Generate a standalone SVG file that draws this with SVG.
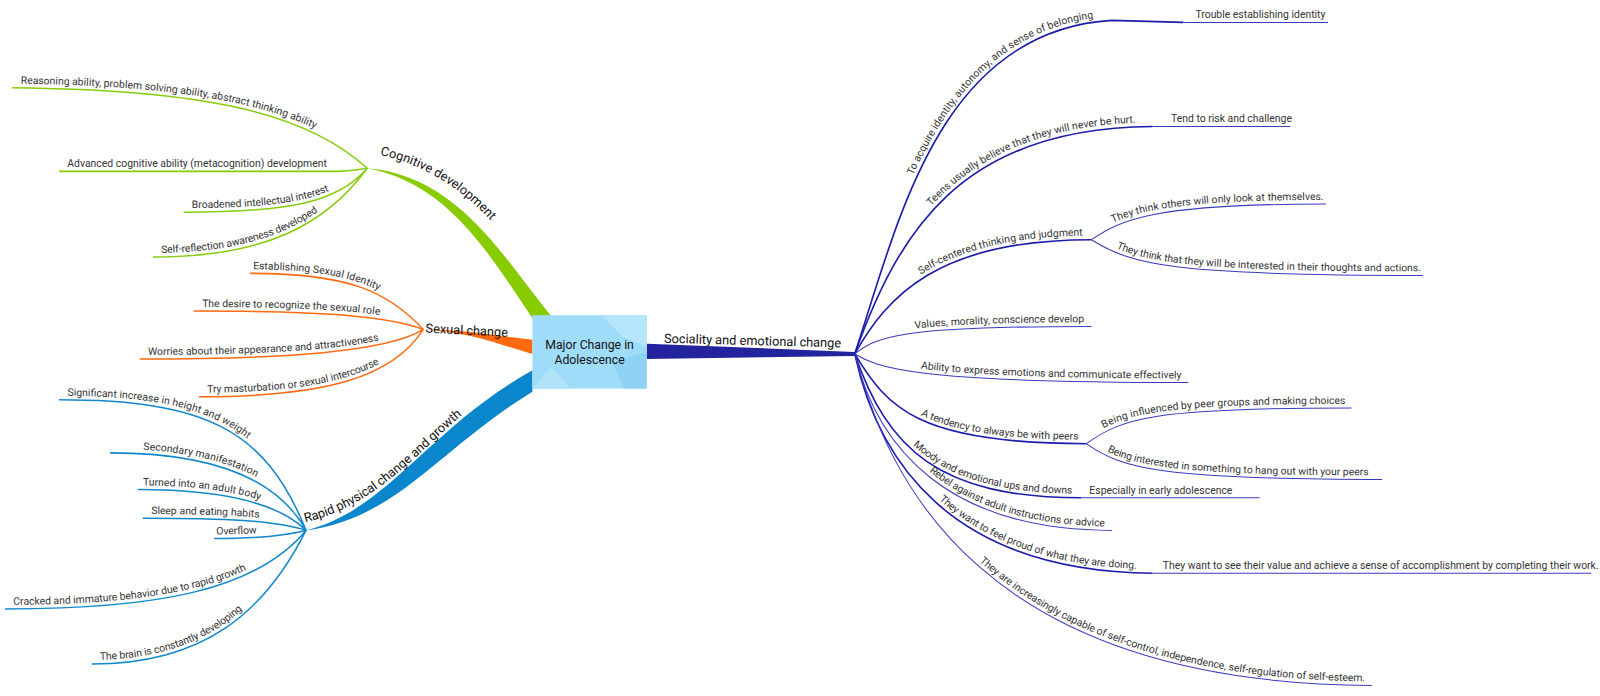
<svg xmlns="http://www.w3.org/2000/svg" width="1600" height="696" viewBox="0 0 1600 696">
<style>
text{font-family:Roboto,"Liberation Sans",sans-serif;fill:#333;font-size:10.2px}
.main{font-size:12.5px;fill:#111}
.g{fill:none;stroke:#86cc0a;stroke-width:1.5}
.o{fill:none;stroke:#ff6a12;stroke-width:1.5}
.b{fill:none;stroke:#1088cc;stroke-width:1.5}
.n{fill:none;stroke:#1c1cab;stroke-width:1.6}
.nt{fill:none;stroke:#3a3ac0;stroke-width:1}
</style>
<defs>
<path id="g1" d="M12,86 C200,88 300,110 360,165"/>
<path id="g2" d="M58,168 L330,168 C345,168 352,166 360,165"/>
<path id="g3" d="M180,208 C280,208 330,200 360,165"/>
<path id="g4" d="M150,252 C260,252 320,220 360,165"/>
<path id="o1" d="M245,268 C340,268 380,285 415,323"/>
<path id="o2" d="M190,305 C320,305 380,310 415,323"/>
<path id="o3" d="M137,352 C280,352 380,345 415,323"/>
<path id="o4" d="M195,389 C320,389 385,370 415,323"/>
<path id="b1" d="M58,392 C200,392 260,420 300,520"/>
<path id="b2" d="M108,444 C200,444 270,465 300,520"/>
<path id="b3" d="M135,480 C210,480 270,490 300,520"/>
<path id="b4" d="M140,508 C220,508 270,510 300,520"/>
<path id="b5" d="M210,528 C250,528 280,525 300,520"/>
<path id="b6" d="M5,597 C150,597 250,580 300,520"/>
<path id="b7" d="M90,651 C200,651 260,600 300,520"/>
<path id="r1" d="M838,347 C880,220 920,30 1090,20 L1160,22"/>
<path id="r1a" d="M1160,22 L1302,22"/>
<path id="r1at" d="M1160,22 L1330,22"/>
<path id="r2" d="M838,347 C880,230 940,125 1130,124"/>
<path id="r2a" d="M1130,124 L1265,124"/>
<path id="r2at" d="M1130,124 L1290,124"/>
<path id="r3" d="M838,347 C870,290 920,235 1070,235"/>
<path id="r3a" d="M1070,235 C1100,215 1130,200 1300,200"/>
<path id="r3at" d="M1070,235 C1100,215 1130,200 1300,200 L1330,200"/>
<path id="r3b" d="M1070,235 C1110,260 1150,270 1395,270"/>
<path id="r3bt" d="M1070,235 C1110,260 1150,270 1395,270 L1430,270"/>
<path id="r4" d="M838,347 C860,330 880,320 1070,320"/>
<path id="r5" d="M838,347 C860,360 890,375 1165,375"/>
<path id="r6" d="M838,347 C870,400 900,435 1065,435"/>
<path id="r6a" d="M1065,435 C1100,410 1130,400 1325,400"/>
<path id="r6at" d="M1065,435 C1100,410 1130,400 1325,400 L1350,400"/>
<path id="r6b" d="M1065,435 C1100,460 1140,470 1355,470"/>
<path id="r6bt" d="M1065,435 C1100,460 1140,470 1355,470 L1380,470"/>
<path id="r7" d="M838,347 C870,440 920,488 1060,488"/>
<path id="r7a" d="M1060,488 L1235,488"/>
<path id="r7at" d="M1060,488 L1260,488"/>
<path id="r8" d="M838,347 C860,440 930,520 1090,520"/>
<path id="r9" d="M838,347 C860,450 930,560 1130,562"/>
<path id="r9a" d="M1130,562 L1560,562"/>
<path id="r9at" d="M1130,562 L1575,562"/>
<path id="r10" d="M838,347 C870,470 960,670 1345,672"/>
<path id="lg" d="M372,154 C430,166 472,204 502,244"/>
<path id="lb" d="M300,515 C372,498 412,444 470,396"/>
</defs>
<g transform="scale(1.02)">
<g id="connectors">
<path d="M360,165 C440,180 480,250 522,312 L542,312 C495,255 450,172 360,165 Z" fill="#88cc00"/>
<path d="M415,323 C460,323 490,330 522,333 L522,347 C490,338 460,325 415,323 Z" fill="#ff6a10"/>
<path d="M300,520 C380,500 420,420 522,363 L522,384 C430,440 390,508 300,520 Z" fill="#0a86cc"/>
<path d="M634,337 L838,345 L838,349 L634,352 Z" fill="#23239e"/>
<use href="#g1" class="g"/><use href="#g2" class="g"/><use href="#g3" class="g"/><use href="#g4" class="g"/>
<use href="#o1" class="o"/><use href="#o2" class="o"/><use href="#o3" class="o"/><use href="#o4" class="o"/>
<use href="#b1" class="b"/><use href="#b2" class="b"/><use href="#b3" class="b"/><use href="#b4" class="b"/><use href="#b5" class="b"/><use href="#b6" class="b"/><use href="#b7" class="b"/>
<use href="#r1" class="n"/><use href="#r2" class="n"/><use href="#r3" class="n"/><use href="#r4" class="nt"/><use href="#r5" class="nt"/><use href="#r6" class="n"/><use href="#r7" class="n"/><use href="#r8" class="nt"/><use href="#r9" class="n"/><use href="#r10" class="nt"/>
<use href="#r1a" class="nt"/><use href="#r2a" class="nt"/><use href="#r3a" class="nt"/><use href="#r3b" class="nt"/><use href="#r6a" class="nt"/><use href="#r6b" class="nt"/><use href="#r7a" class="nt"/><use href="#r9a" class="nt"/>
</g>
<g id="center">
<rect x="522" y="309" width="112" height="72" fill="#9fdcf9"/>
<polygon points="590,309 634,309 634,340 610,330" fill="#b6e6fb"/>
<polygon points="600,355 634,345 634,381 612,381" fill="#8fd2f3"/>
<polygon points="522,381 560,381 540,360" fill="#b0e3fa"/>
<text x="578" y="342" text-anchor="middle" class="main" style="font-size:12px">Major Change in</text>
<text x="578" y="357" text-anchor="middle" class="main" style="font-size:12px">Adolescence</text>
</g>
<g id="cognitive"><text class="main" dy="-2"><textPath href="#lg" startOffset="0">Cognitive development</textPath></text>
<text dy="-4"><textPath href="#g1" startOffset="8">Reasoning ability, problem solving ability, abstract thinking ability</textPath></text>
<text dy="-4"><textPath href="#g2" startOffset="8">Advanced cognitive ability (metacognition) development</textPath></text>
<text dy="-4"><textPath href="#g3" startOffset="8">Broadened intellectual interest</textPath></text>
<text dy="-4"><textPath href="#g4" startOffset="8">Self-reflection awareness developed</textPath></text></g>
<g id="sexual"><text class="main" x="417" y="326" transform="rotate(3 417 326)">Sexual change</text>
<text dy="-4"><textPath href="#o1" startOffset="3">Establishing Sexual Identity</textPath></text>
<text dy="-4"><textPath href="#o2" startOffset="8">The desire to recognize the sexual role</textPath></text>
<text dy="-4"><textPath href="#o3" startOffset="8">Worries about their appearance and attractiveness</textPath></text>
<text dy="-4"><textPath href="#o4" startOffset="8">Try masturbation or sexual intercourse</textPath></text></g>
<g id="physical"><text class="main" dy="-3"><textPath href="#lb">Rapid physical change and growth</textPath></text>
<text dy="-4"><textPath href="#b1" startOffset="8">Significant increase in height and weight</textPath></text>
<text dy="-4"><textPath href="#b2" startOffset="32">Secondary manifestation</textPath></text>
<text dy="-4"><textPath href="#b3" startOffset="5">Turned into an adult body</textPath></text>
<text dy="-4"><textPath href="#b4" startOffset="8">Sleep and eating habits</textPath></text>
<text dy="-4"><textPath href="#b5" startOffset="2">Overflow</textPath></text>
<text dy="-4"><textPath href="#b6" startOffset="8">Cracked and immature behavior due to rapid growth</textPath></text>
<text dy="-4"><textPath href="#b7" startOffset="8">The brain is constantly developing</textPath></text></g>
<g id="social"><text class="main" x="651" y="336" transform="rotate(1.5 651 336)">Sociality and emotional change</text>
<text dy="-4" text-anchor="end"><textPath href="#r1" startOffset="83%">To acquire identity, autonomy, and sense of belonging</textPath></text>
<text dy="-4"><textPath href="#r1at" startOffset="12">Trouble establishing identity</textPath></text>
<text dy="-4" text-anchor="end"><textPath href="#r2" startOffset="96%">Teens usually believe that they will never be hurt.</textPath></text>
<text dy="-4"><textPath href="#r2at" startOffset="18">Tend to risk and challenge</textPath></text>
<text dy="-4" text-anchor="end"><textPath href="#r3" startOffset="97%">Self-centered thinking and judgment</textPath></text>
<text dy="-4"><textPath href="#r3at" startOffset="26">They think others will only look at themselves.</textPath></text>
<text dy="-4"><textPath href="#r3bt" startOffset="26">They think that they will be interested in their thoughts and actions.</textPath></text>
<text dy="-4" text-anchor="end"><textPath href="#r4" startOffset="97%">Values, morality, conscience develop</textPath></text>
<text dy="-4" text-anchor="end"><textPath href="#r5" startOffset="98%">Ability to express emotions and communicate effectively</textPath></text>
<text dy="-4" text-anchor="end"><textPath href="#r6" startOffset="97%">A tendency to always be with peers</textPath></text>
<text dy="-4"><textPath href="#r6at" startOffset="22">Being influenced by peer groups and making choices</textPath></text>
<text dy="-4"><textPath href="#r6bt" startOffset="22">Being interested in something to hang out with your peers</textPath></text>
<text dy="-4" text-anchor="end"><textPath href="#r7" startOffset="97%">Moody and emotional ups and downs</textPath></text>
<text dy="-4"><textPath href="#r7at" startOffset="8">Especially in early adolescence</textPath></text>
<text dy="-4" text-anchor="end"><textPath href="#r8" startOffset="98%">Rebel against adult instructions or advice</textPath></text>
<text dy="-4" text-anchor="end"><textPath href="#r9" startOffset="96%">They want to feel proud of what they are doing.</textPath></text>
<text dy="-4"><textPath href="#r9at" startOffset="10">They want to see their value and achieve a sense of accomplishment by completing their work.</textPath></text>
<text dy="-4" text-anchor="end"><textPath href="#r10" startOffset="99%">They are increasingly capable of self-control, independence, self-regulation of self-esteem.</textPath></text></g>
</g>
</svg>
